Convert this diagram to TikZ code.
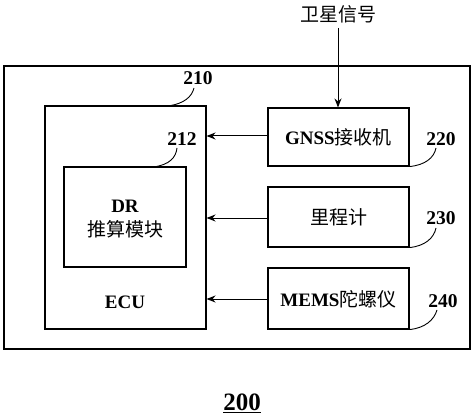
\documentclass[tikz,border=0pt]{standalone}
\usepackage{fontspec}
\setmainfont{Liberation Serif}
\newfontfamily\cjk{Noto Sans CJK SC}
\usetikzlibrary{arrows.meta}
\begin{document}
\begin{tikzpicture}[x=1pt,y=-1pt,
  box/.style={draw,line width=1.1pt,inner sep=0pt},
  lbl/.style={font=\fontsize{19.5}{21}\selectfont\bfseries,inner sep=0pt},
  txt/.style={font=\fontsize{19}{23}\selectfont,inner sep=0pt,align=center},
  arr/.style={line width=1pt,-{Stealth[length=9pt,width=7pt]}},
  lead/.style={line width=0.9pt}]
\useasboundingbox (0,0) rectangle (474,417);
\node[box,minimum width=466,minimum height=283] (outer) at (237,207.5) {};
\node[box,minimum width=161,minimum height=223] (ecu) at (125.5,217.5) {};
\node[box,minimum width=122,minimum height=100] (dr) at (125,217) {};
\node[box,minimum width=141,minimum height=58] (gnss) at (338.5,137) {};
\node[box,minimum width=141,minimum height=60] (odo) at (338.5,217) {};
\node[box,minimum width=141,minimum height=61] (mems) at (338.5,298.5) {};
% texts
\node[txt] (sat) at (338,14) {\cjk 卫星信号};
\node[txt] (gnsst) at (338.5,137) {\bfseries GNSS{\mdseries\cjk 接收机}};
\node[txt] (odot) at (338.5,217) {\cjk 里程计};
\node[txt] (memst) at (338.5,299) {\bfseries MEMS{\mdseries\cjk 陀螺仪}};
\node[txt] (drt) at (125,206) {\bfseries DR};
\node[txt] (drt2) at (125,229) {\cjk 推算模块};
\node[txt] (ecut) at (125,302) {\bfseries ECU};
\node[lbl] (l210) at (198,78) {210};
\node[lbl] (l212) at (182,139) {212};
\node[lbl] (l220) at (441,139) {220};
\node[lbl] (l230) at (441,218) {230};
\node[lbl] (l240) at (443,301) {240};
\node[lbl,font=\fontsize{25}{27}\selectfont\bfseries] (l200) at (242,403) {\underline{200}};
% arrows
\draw[arr] (sat.south) ++(0,5) coordinate (sats) -- (sats |- gnss.north);
\draw[arr] (gnss.west |- 0,136) coordinate (g1) -- (ecu.east |- g1);
\draw[arr] (odo.west |- 0,218) coordinate (o1) -- (ecu.east |- o1);
\draw[arr] (mems.west |- 0,299) coordinate (m1) -- (ecu.east |- m1);
% leaders
\coordinate (c210) at (167,106);
\draw[lead] (c210) .. controls (185,104) and (192,96) .. (194,88);
\draw[lead] (153,167) .. controls (170,165) and (176,157) .. (177,148);
\draw[lead] (gnss.south east) .. controls (425,165) and (434,158) .. (436,148);
\draw[lead] (odo.south east) .. controls (425,246) and (434,238) .. (436,228);
\draw[lead] (mems.south east) .. controls (425,328) and (434,320) .. (437,310);
\end{tikzpicture}
\end{document}
